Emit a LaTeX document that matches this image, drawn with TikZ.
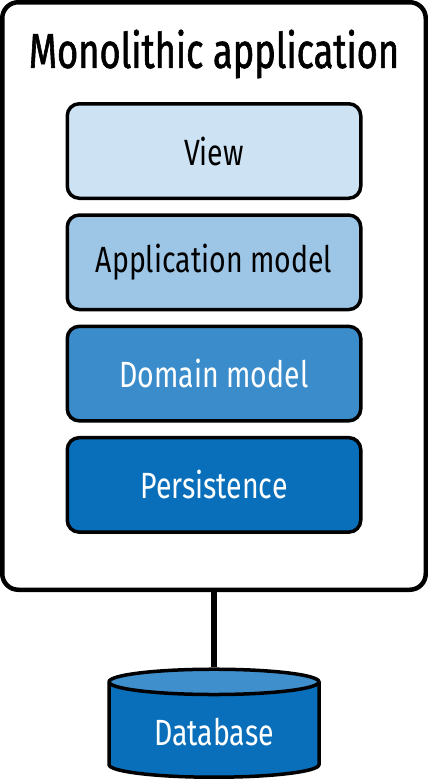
\documentclass[tikz,border=0pt]{standalone}
\usepackage{fontspec}
\setmainfont[FakeStretch=0.78]{Fira Sans}
\newfontfamily\titlefont[FakeStretch=0.74,FakeBold=1.2]{Fira Sans}
\usepackage{tikz}
\usetikzlibrary{positioning,shapes.geometric}

\definecolor{viewblue}{HTML}{CDE2F2}
\definecolor{appblue}{HTML}{9DC6E6}
\definecolor{domainblue}{HTML}{3B8CCB}
\definecolor{persistblue}{HTML}{0A6FBA}
\definecolor{dbtop}{HTML}{3F8FCC}

\begin{document}
\begin{tikzpicture}[
    x=1pt, y=1pt,
    layer/.style={%
      draw, line width=3.5pt, rounded corners=12pt,
      minimum width=293.5pt, minimum height=94.5pt,
      font=\fontsize{36.5}{42}\selectfont
    },
    dark/.style={text=white}
  ]
    \useasboundingbox (0,0) rectangle (428,-782);

    % outer application box
    \node[draw, line width=4.5pt, rounded corners=16pt,
          minimum width=423.5pt, minimum height=587.5pt] (mono) at (214,-296) {};
    \node[font=\titlefont\fontsize{49}{54}\selectfont] (title) at (214,-54) {Monolithic application};

    % layers
    \node[layer, fill=viewblue]          (view)    at (214,-151) {View};
    \node[layer, fill=appblue,     below=13.3pt of view]    (appmodel) {Application model};
    \node[layer, fill=domainblue,  dark, below=13.3pt of appmodel] (domain) {Domain model};
    \node[layer, fill=persistblue, dark, below=13.3pt of domain]   (persist) {Persistence};

    % database
    \node[cylinder, shape border rotate=90, aspect=0.2, draw, line width=3.5pt,
          cylinder uses custom fill, cylinder body fill=persistblue,
          cylinder end fill=dbtop, minimum width=210pt, minimum height=108pt,
          dark, font=\fontsize{36.5}{42}\selectfont] (db) at (214,-732) {Database};

    \draw[line width=5.5pt] (mono.south) -- (db.top);
\end{tikzpicture}
\end{document}
